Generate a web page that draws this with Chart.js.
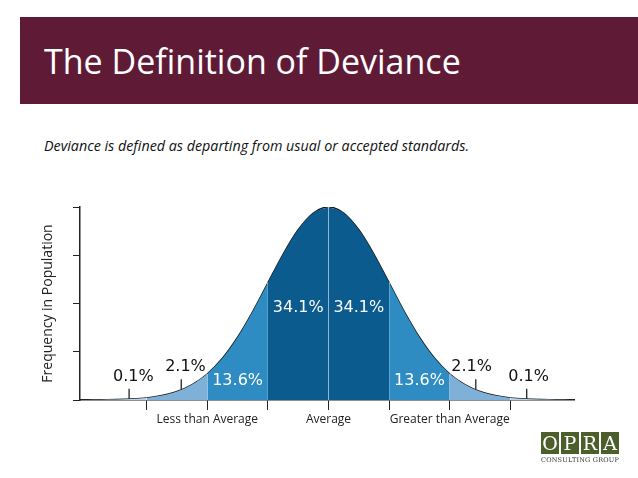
<!DOCTYPE html>
<html>
<head>
<meta charset="utf-8">
<script src="https://cdn.jsdelivr.net/npm/chart.js@4"></script>
<style>
  body { margin: 0; width: 638px; height: 478px; background: #fff; position: relative; overflow: hidden; font-family: "Open Sans", sans-serif; }
  #bar { position: absolute; left: 20px; top: 17px; width: 618px; height: 87px; background: #5f1a36; }
  #title { position: absolute; left: 24px; top: 21px; color: #fff; font-size: 34px; }
  #sub { position: absolute; left: 44px; top: 136px; font-style: italic; font-size: 14.3px; color: #111; }
  #wrap { position: absolute; left: 0; top: 190px; width: 638px; height: 250px; }
  #logo { position: absolute; left: 541px; top: 432px; }
  #logo .row { display: flex; gap: 2px; }
  #logo .row span { display: block; width: 18px; height: 22px; background: #4b5f2b; color: #fff; font-family: "DejaVu Serif", serif; font-size: 19px; line-height: 22px; text-align: center; }
  #logo .cg { font-family: "DejaVu Serif", serif; font-size: 6.5px; color: #333; margin-top: 2px; letter-spacing: 0.2px; }
</style>
</head>
<body>
<div id="bar"><div id="title">The Definition of Deviance</div></div>
<div id="sub">Deviance is defined as departing from usual or accepted standards.</div>
<div id="wrap"><canvas id="myChart"></canvas></div>
<div id="logo"><div class="row"><span>O</span><span>P</span><span>R</span><span>A</span></div><div class="cg">CONSULTING GROUP</div></div>
<script>
// curve, peak = 1, in steps of a quarter deviation
var sigmas = [-4, -3.75, -3.5, -3.25, -3, -2.75, -2.5, -2.25, -2, -1.75, -1.5, -1.25, -1, -0.75, -0.5, -0.25, 0,
              0.25, 0.5, 0.75, 1, 1.25, 1.5, 1.75, 2, 2.25, 2.5, 2.75, 3, 3.25, 3.5, 3.75, 4];
var heights = [0, 0.001, 0.002, 0.005, 0.011, 0.023, 0.044, 0.08, 0.135, 0.216, 0.325, 0.458, 0.607, 0.755, 0.882, 0.969, 1,
               0.969, 0.882, 0.755, 0.607, 0.458, 0.325, 0.216, 0.135, 0.08, 0.044, 0.023, 0.011, 0.005, 0.002, 0.001, 0];
var bands = [[-4, -3], [-3, -2], [-2, -1], [-1, 0], [0, 1], [1, 2], [2, 3], [3, 4]];
var bandColors = ['#b9d4ea', '#7fb1d8', '#2e8cc3', '#0b5b8e', '#0b5b8e', '#2e8cc3', '#7fb1d8', '#b9d4ea'];
var dividers = [-3, -2, -1, 0, 1, 2, 3];
var axisLabels = { '-2': 'Less than Average', '0': 'Average', '2': 'Greater than Average' };
var pctLabels = [
  { x: -0.5, y: 0.48, text: '34.1%', color: '#fff' },
  { x: 0.5, y: 0.48, text: '34.1%', color: '#fff' },
  { x: -1.5, y: 0.1, text: '13.6%', color: '#fff' },
  { x: 1.5, y: 0.1, text: '13.6%', color: '#fff' },
  { x: -2.36, y: 0.17, text: '2.1%', color: '#111', tick: -2.43 },
  { x: 2.36, y: 0.17, text: '2.1%', color: '#111', tick: 2.43 },
  { x: -3.22, y: 0.12, text: '0.1%', color: '#111', tick: -3.29 },
  { x: 3.3, y: 0.12, text: '0.1%', color: '#111', tick: 3.27 }
];

var points = sigmas.map(function (s, i) { return { x: s, y: heights[i] }; });

var datasets = bands.map(function (b, i) {
  return {
    data: points.filter(function (p) { return p.x >= b[0] && p.x <= b[1]; }),
    borderWidth: 0, pointRadius: 0, fill: 'origin', backgroundColor: bandColors[i],
    tension: 0.4, cubicInterpolationMode: 'monotone'
  };
});
dividers.forEach(function (d) {
  var h = heights[sigmas.indexOf(d)];
  datasets.push({ data: [{ x: d, y: 0 }, { x: d, y: h }], borderColor: '#fff', borderWidth: 1.5, pointRadius: 0, fill: false });
});
datasets.push({ data: points, borderColor: '#1a1a1a', borderWidth: 1.5, pointRadius: 0, fill: false, tension: 0.4, cubicInterpolationMode: 'monotone' });

var pctPlugin = {
  id: 'pct',
  afterDatasetsDraw: function (chart) {
    var ctx = chart.ctx, xs = chart.scales.x, ys = chart.scales.y;
    ctx.save();
    ctx.font = '16px "DejaVu Sans"';
    ctx.textAlign = 'center';
    ctx.textBaseline = 'middle';
    pctLabels.forEach(function (l) {
      ctx.fillStyle = l.color;
      ctx.fillText(l.text, xs.getPixelForValue(l.x), ys.getPixelForValue(l.y));
      if (l.tick !== undefined) {
        ctx.strokeStyle = '#111';
        ctx.lineWidth = 1.2;
        ctx.beginPath();
        var tx = xs.getPixelForValue(l.tick);
        ctx.moveTo(tx, ys.getPixelForValue(l.y) + 12);
        ctx.lineTo(tx, ys.getPixelForValue(l.y) + 22);
        ctx.stroke();
      }
    });
    ctx.restore();
  }
};

var cvas = document.getElementById('myChart').getContext('2d');
var myChart = new Chart(cvas, {
  type: 'line',
  data: { datasets: datasets },
  plugins: [pctPlugin],
  options: {
    responsive: true,
    maintainAspectRatio: false,
    animation: false,
    layout: { padding: { left: 40, top: 17, right: 64, bottom: 10 } },
    plugins: { legend: { display: false }, tooltip: { enabled: false } },
    scales: {
      x: {
        type: 'linear', min: -4.1, max: 4.05,
        afterBuildTicks: function (s) { s.ticks = dividers.map(function (d) { return { value: d }; }); },
        afterFit: function (s) { s.height = 30; },
        grid: { drawOnChartArea: false, color: '#222', tickLength: 10 },
        border: { color: '#222', width: 1.5 },
        ticks: { color: '#222', font: { family: 'Open Sans', size: 12 }, padding: 2,
                 maxRotation: 0, minRotation: 0, autoSkip: false,
                 callback: function (v) { return axisLabels[String(v)] || ''; } }
      },
      y: {
        min: 0, max: 1,
        afterBuildTicks: function (s) { s.ticks = [0, 0.25, 0.5, 0.75, 1].map(function (v) { return { value: v }; }); },
        afterFit: function (s) { s.width = 40; },
        grid: { drawOnChartArea: false, color: '#222', tickLength: 7 },
        border: { color: '#222', width: 1.5 },
        ticks: { display: true, callback: function () { return ''; }, padding: 0 },
        title: { display: true, text: 'Frequency in Population', color: '#222', font: { family: 'Open Sans', size: 14 }, padding: 0 }
      }
    }
  }
});
</script>
</body>
</html>
